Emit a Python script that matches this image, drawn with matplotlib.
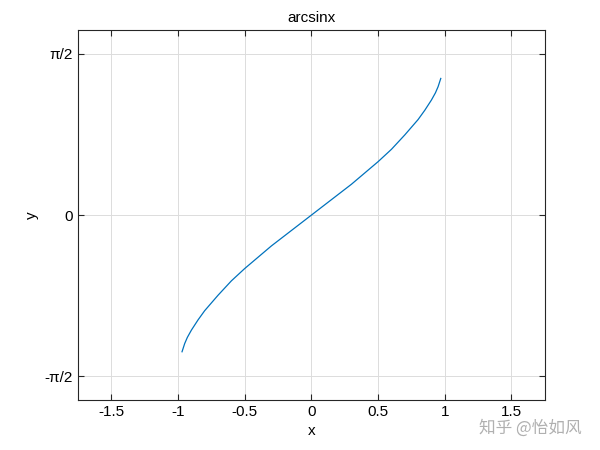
import matplotlib
matplotlib.use("Agg")
import matplotlib.pyplot as plt
import numpy as np

plt.rcParams['font.family'] = ['Liberation Sans', 'Noto Sans CJK SC', 'DejaVu Sans']

# values (right half; left half mirrored)
x_half = [0.0, 0.1, 0.2, 0.3, 0.4, 0.5, 0.6, 0.7, 0.8, 0.85, 0.9, 0.93, 0.95, 0.96, 0.97]
y_half = [0.0, 0.10, 0.20, 0.30, 0.41, 0.52, 0.64, 0.78, 0.93, 1.02, 1.12, 1.19, 1.25, 1.29, 1.33]
x_vals = [-v for v in x_half[:0:-1]] + x_half
y_vals = [-v for v in y_half[:0:-1]] + y_half

x_ticks = [-1.5, -1, -0.5, 0, 0.5, 1, 1.5]
x_tick_labels = ["-1.5", "-1", "-0.5", "0", "0.5", "1", "1.5"]
y_ticks = [-np.pi / 2, 0, np.pi / 2]
y_tick_labels = ["-π/2", "0", "π/2"]

fig = plt.figure(figsize=(6, 4.5), dpi=100)
ax = fig.add_axes([0.13, 0.111, 0.778, 0.822])
ax.plot(x_vals, y_vals, color="#0072bd", linewidth=0.9)

ax.set_xlim(-1.75, 1.75)
ax.set_ylim(-1.8, 1.8)
ax.set_xticks(x_ticks)
ax.set_xticklabels(x_tick_labels)
ax.set_yticks(y_ticks)
ax.set_yticklabels(y_tick_labels)
ax.tick_params(direction="in", length=4, labelsize=11, top=True, right=True, color="#262626")
ax.grid(True, color="#dcdcdc", linewidth=0.7)
ax.set_axisbelow(True)
for s in ax.spines.values():
    s.set_color("#262626")
    s.set_linewidth(0.8)

ax.set_title("arcsinx", fontsize=11)
ax.set_xlabel("x", fontsize=11)
ax.set_ylabel("y", fontsize=11)

fig.text(0.97, 0.03, "知乎 @怡如风", ha="right", va="bottom", fontsize=12,
         color="#b0b0b0", family=["Noto Sans CJK SC", "DejaVu Sans"])

fig.savefig("out.png", dpi=100)
